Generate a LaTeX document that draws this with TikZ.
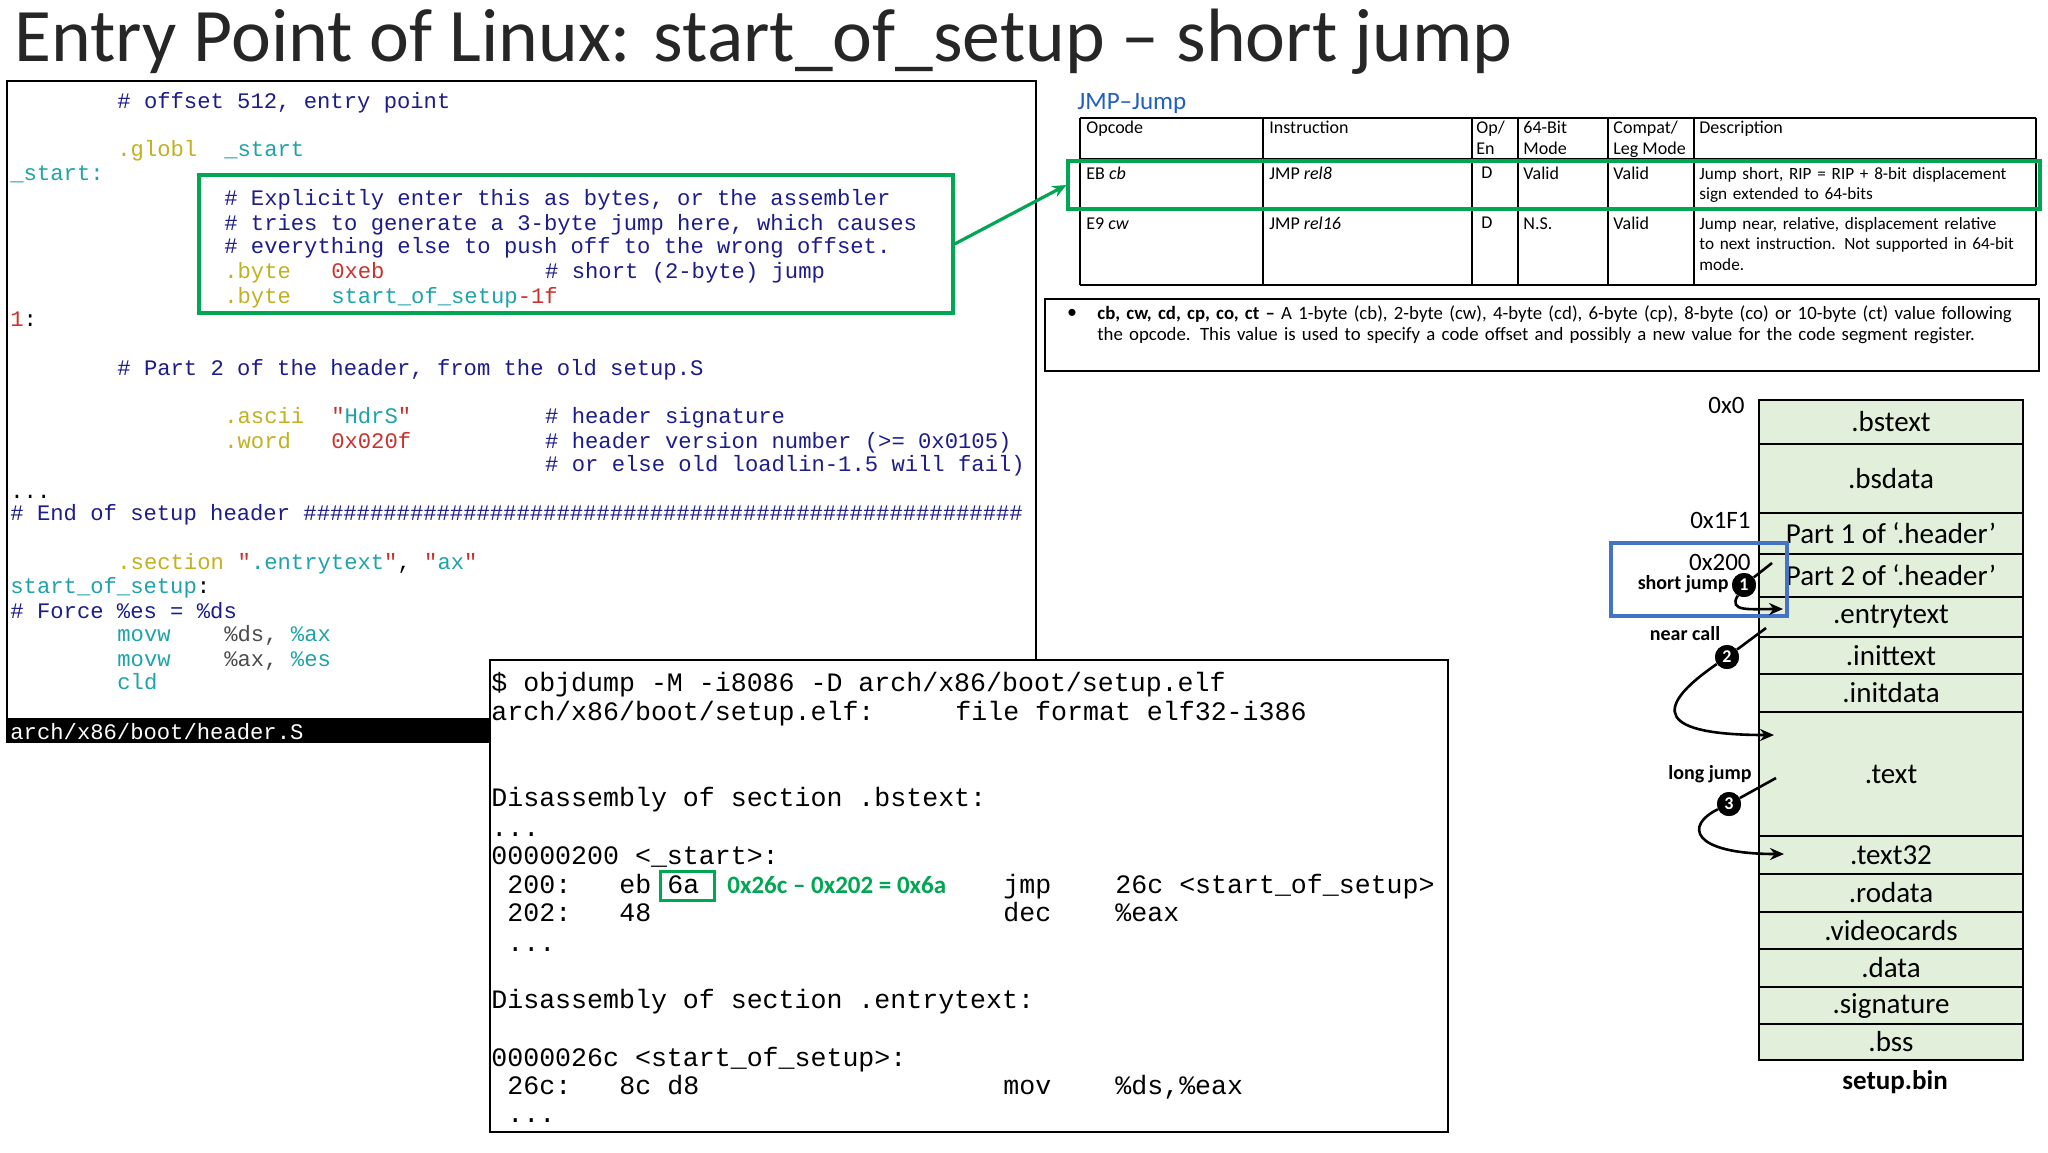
\documentclass[tikz,border=0pt]{standalone}
\usepackage{fontspec}
\setmainfont{Carlito}
\newfontfamily\mono{Liberation Mono}
\usetikzlibrary{arrows.meta}
\definecolor{cmt}{HTML}{1C1C8A}
\definecolor{dir}{HTML}{C2B020}
\definecolor{tea}{HTML}{1FA3A8}
\definecolor{red1}{HTML}{C8322D}
\definecolor{grn}{HTML}{00A651}
\definecolor{blu}{HTML}{4472C4}
\definecolor{jmp}{HTML}{1F5FBF}
\definecolor{mem}{HTML}{E2EFDA}
\tikzset{
  lc/.style={anchor=west,inner sep=0pt,yshift=-1.5pt,font=\mono\fontsize{11.1}{13}\selectfont,text height=0.7em,text depth=0.2em},
  oc/.style={anchor=west,inner sep=0pt,yshift=-1.5pt,font=\mono\fontsize{13.3}{15}\selectfont,text height=0.7em,text depth=0.2em},
  tc/.style={anchor=north west,inner sep=0pt,align=left,font=\fontsize{9}{10.5}\selectfont},
  seg/.style={draw=black,line width=0.9pt,fill=mem},
  segl/.style={font=\fontsize{14.5}{16}\selectfont},
  addr/.style={anchor=east,inner sep=0pt,font=\fontsize{12.5}{14}\selectfont},
  lab/.style={inner sep=0pt,font=\bfseries\fontsize{10}{12}\selectfont},
  num/.style={circle,fill=black,text=white,inner sep=0pt,minimum size=12pt,font=\bfseries\fontsize{9}{10}\selectfont},
  jarr/.style={line width=1.3pt,-{Stealth[length=7pt,width=6pt]}},
  jln/.style={line width=1.3pt},
}
\newcommand{\lx}[1]{\fpeval{10+#1*13.37}}
\newcommand{\ox}[1]{\fpeval{491+#1*16.0}}
\begin{document}
\begin{tikzpicture}[x=0.5pt,y=-0.5pt]
\useasboundingbox (0,0) rectangle (2048,1152);
% title
\node[anchor=base west,inner sep=0pt,text=black!85,font=\fontsize{37.8}{44}\selectfont] (title) at (14,61) {Entry Point of Linux: start\_of\_setup -- short jump};
% left code box
\draw[line width=1pt] (7,81) rectangle (1036,742);
\fill (7,718) rectangle (490,742);
\node[lc,text=white] (bar) at (\lx{0},731) {arch/x86/boot/header.S};
\node[lc,text=cmt] (l1) at (\lx{8},100.6) {\# offset 512, entry point};
\node[lc,text=dir] (l2a) at (\lx{8},148.9) {.globl};
\node[lc,text=tea] (l2b) at (\lx{16},148.9) {\_start};
\node[lc,text=tea] (l3) at (\lx{0},172.4) {\_start:};
\node[lc,text=cmt] (l4) at (\lx{16},197.2) {\# Explicitly enter this as bytes, or the assembler};
\node[lc,text=cmt] (l5) at (\lx{16},222) {\# tries to generate a 3-byte jump here, which causes};
\node[lc,text=cmt] (l6) at (\lx{16},245.5) {\# everything else to push off to the wrong offset.};
\node[lc,text=dir] (l7a) at (\lx{16},270.3) {.byte};
\node[lc,text=red1] (l7b) at (\lx{24},270.3) {0xeb};
\node[lc,text=cmt] (l7c) at (\lx{40},270.3) {\# short (2-byte) jump};
\node[lc,text=dir] (l8a) at (\lx{16},295.2) {.byte};
\node[lc,text=tea] (l8b) at (\lx{24},295.2) {start\_of\_setup\textcolor{red1}{-1f}};
\node[lc,text=red1] (l9) at (\lx{0},318.7) {1\textcolor{black}{:}};
\node[lc,text=cmt] (l10) at (\lx{8},367) {\# Part 2 of the header, from the old setup.S};
\node[lc,text=dir] (l11a) at (\lx{16},415.3) {.ascii};
\node[lc,text=tea] (l11b) at (\lx{24},415.3) {\textcolor{red1}{"}HdrS\textcolor{red1}{"}};
\node[lc,text=cmt] (l11c) at (\lx{40},415.3) {\# header signature};
\node[lc,text=dir] (l12a) at (\lx{16},440) {.word};
\node[lc,text=red1] (l12b) at (\lx{24},440) {0x020f};
\node[lc,text=cmt] (l12c) at (\lx{40},440) {\# header version number (>= 0x0105)};
\node[lc,text=cmt] (l13) at (\lx{40},463.6) {\# or else old loadlin-1.5 will fail)};
\node[lc] (l14) at (\lx{0},490) {...};
\node[lc,text=cmt] (l15) at (\lx{0},512) {\# End of setup header \#\#\#\#\#\#\#\#\#\#\#\#\#\#\#\#\#\#\#\#\#\#\#\#\#\#\#\#\#\#\#\#\#\#\#\#\#\#\#\#\#\#\#\#\#\#\#\#\#\#\#\#\#\#};
\node[lc,text=dir] (l16a) at (\lx{8},561.6) {.section};
\node[lc,text=tea] (l16b) at (\lx{17},561.6) {\textcolor{red1}{"}.entrytext\textcolor{red1}{"}\textcolor{black}{,} \textcolor{red1}{"}ax\textcolor{red1}{"}};
\node[lc,text=tea] (l17) at (\lx{0},585) {start\_of\_setup\textcolor{black}{:}};
\node[lc,text=cmt] (l18) at (\lx{0},610) {\# Force \%es = \%ds};
\node[lc,text=tea] (l19a) at (\lx{8},633.4) {movw};
\node[lc,text=tea] (l19b) at (\lx{16},633.4) {\textcolor{black!70}{\%ds,} \%ax};
\node[lc,text=tea] (l20a) at (\lx{8},658.2) {movw};
\node[lc,text=tea] (l20b) at (\lx{16},658.2) {\textcolor{black!70}{\%ax,} \%es};
\node[lc,text=tea] (l21) at (\lx{8},681.7) {cld};
% green box
\node[draw=grn,line width=1.6pt,minimum width=377pt,minimum height=69pt,inner sep=0pt] (gbox) at (576,244) {};
% table
\node[anchor=west,inner sep=0pt,text=jmp,font=\fontsize{12.5}{14}\selectfont] (jt) at (1077,103) {JMP--Jump};
\draw[line width=0.7pt] (1080,118) -- (2036,118) (1080,159) -- (2036,159) (1080,209) -- (2036,209) (1080,285) -- (2036,285);
\foreach \cx in {1080,1263,1472,1518,1608,1694,2036} \draw[line width=0.7pt] (\cx,118) -- (\cx,285);
\node[tc] (h1) at (1086,121) {Opcode};
\node[tc] (h2) at (1269,121) {Instruction};
\node[tc] (h3) at (1476,121) {Op/\\En};
\node[tc] (h4) at (1523,121) {64-Bit\\Mode};
\node[tc] (h5) at (1613,121) {Compat/\\Leg Mode};
\node[tc] (h6) at (1699,121) {Description};
\node[tc] (r1a) at (1086,167) {EB \textit{cb}};
\node[tc] (r1b) at (1269,167) {JMP \textit{rel8}};
\node[tc] (r1c) at (1481,167) {D};
\node[tc] (r1d) at (1523,167) {Valid};
\node[tc] (r1e) at (1613,167) {Valid};
\node[tc,text width=166pt,font=\fontsize{8.6}{10.3}\selectfont] (r1f) at (1699,167) {Jump short, RIP = RIP + 8-bit displacement sign extended to 64-bits};
\node[tc] (r2a) at (1086,217) {E9 \textit{cw}};
\node[tc] (r2b) at (1269,217) {JMP \textit{rel16}};
\node[tc] (r2c) at (1481,217) {D};
\node[tc] (r2d) at (1523,217) {N.S.};
\node[tc] (r2e) at (1613,217) {Valid};
\node[tc,text width=160pt,font=\fontsize{8.6}{10.3}\selectfont] (r2f) at (1699,217) {Jump near, relative, displacement relative to next instruction. Not supported in 64-bit mode.};
\node[draw=grn,line width=1.6pt,minimum width=486pt,minimum height=24pt,inner sep=0pt] (rbox) at (1554,185) {};
\draw[grn,line width=1.6pt,-{Stealth[length=7pt,width=6pt]}] (gbox.east) -- (rbox.west);
% note
\draw[line width=1.2pt] (1045,299) rectangle (2039,371);
\node[inner sep=0pt,font=\fontsize{10}{10}\selectfont] (bul) at (1072,314) {\textbullet};
\node[tc,text width=470pt,font=\fontsize{9.4}{10.6}\selectfont] (note) at (1097,305) {\textbf{cb, cw, cd, cp, co, ct --} A 1-byte (cb), 2-byte (cw), 4-byte (cd), 6-byte (cp), 8-byte (co) or 10-byte (ct) value following the opcode. This value is used to specify a code offset and possibly a new value for the code segment register.};
% memory map
\foreach \ya/\yb/\t/\n in {400/444/.bstext/m1,444/513/.bsdata/m2,513/554/Part 1 of ‘.header’/m3,554/597/Part 2 of ‘.header’/m4,597/637/.entrytext/m5,637/674/.inittext/m6,674/712/.initdata/m7,712/836/.text/m8,836/874/.text32/m9,874/912/.rodata/m10,912/949/.videocards/m11,949/987/.data/m12,987/1024/.signature/m13,1024/1060/.bss/m14}{
  \draw[seg] (1759,\ya) rectangle (2023,\yb);
  \node[segl] (\n) at (1891,{(\ya+\yb)/2}) {\t};
}
\node[inner sep=0pt,font=\bfseries\fontsize{13.5}{15}\selectfont] (sbin) at (1895,1082) {setup.bin};
\node[addr] (a0) at (1745,405) {0x0};
\node[addr] (a1) at (1751,520) {0x1F1};
\node[addr] (a2) at (1751,562) {0x200};
\draw[blu,line width=1.6pt] (1611,543) rectangle (1787,616);
\node[lab,anchor=east] (sj) at (1729,584) {short jump};
\node[lab] (nc) at (1685,634) {near call};
\node[lab] (lj) at (1710,774) {long jump};
\coordinate (s1) at (1772,563); \coordinate (e1) at (1783,609);
\coordinate (s2) at (1766,628); \coordinate (e2) at (1774,735);
\coordinate (s3) at (1776,778); \coordinate (e3) at (1784,854);
\node[num] (c1) at (1744,585) {1};
\node[num] (c2) at (1727,657) {2};
\node[num] (c3) at (1729,804) {3};
\draw[jln] (s1) -- (c1);
\draw[jarr] (c1) .. controls (1728,612) and (1750,609) .. (e1);
\draw[jln] (s2) -- (c2);
\draw[jarr] (c2) .. controls (1650,710) and (1660,735) .. (e2);
\draw[jln] (s3) -- (c3);
\draw[jarr] (c3) .. controls (1685,825) and (1690,854) .. (e3);
\node[num] at (c1) {1};
\node[num] at (c2) {2};
\node[num] at (c3) {3};
% objdump box
\draw[line width=1pt,fill=white] (490,660) rectangle (1448,1132);
\node[oc] (o1) at (\ox{0},683) {\$ objdump -M -i8086 -D arch/x86/boot/setup.elf};
\node[oc] (o2) at (\ox{0},712) {arch/x86/boot/setup.elf:};
\node[oc] (o2b) at (\ox{29},712) {file format elf32-i386};
\node[oc] (o3) at (\ox{0},798) {Disassembly of section .bstext:};
\node[oc] (o4) at (\ox{0},828) {...};
\node[oc] (o5) at (\ox{0},856.7) {00000200 <\_start>:};
\node[oc] (o6) at (\ox{1},885.5) {200:};
\node[oc] (o6b) at (\ox{8},885.5) {eb 6a};
\node[anchor=west,inner sep=0pt,text=grn,font=\bfseries\fontsize{12.5}{14}\selectfont] (calc) at (727,885.5) {0x26c -- 0x202 = 0x6a};
\node[oc] (o6c) at (\ox{32},885.5) {jmp};
\node[oc] (o6d) at (\ox{39},885.5) {26c <start\_of\_setup>};
\node[oc] (o7) at (\ox{1},913) {202:};
\node[oc] (o7b) at (\ox{8},913) {48};
\node[oc] (o7c) at (\ox{32},913) {dec};
\node[oc] (o7d) at (\ox{39},913) {\%eax};
\node[oc] (o8) at (\ox{1},943) {...};
\node[oc] (o9) at (\ox{0},1000) {Disassembly of section .entrytext:};
\node[oc] (o10) at (\ox{0},1058) {0000026c <start\_of\_setup>:};
\node[oc] (o11) at (\ox{1},1086.6) {26c:};
\node[oc] (o11b) at (\ox{8},1086.6) {8c d8};
\node[oc] (o11c) at (\ox{32},1086.6) {mov};
\node[oc] (o11d) at (\ox{39},1086.6) {\%ds,\%eax};
\node[oc] (o12) at (\ox{1},1114) {...};
\draw[grn,line width=1.5pt] (660,871) rectangle (714,900);
\end{tikzpicture}
\end{document}
